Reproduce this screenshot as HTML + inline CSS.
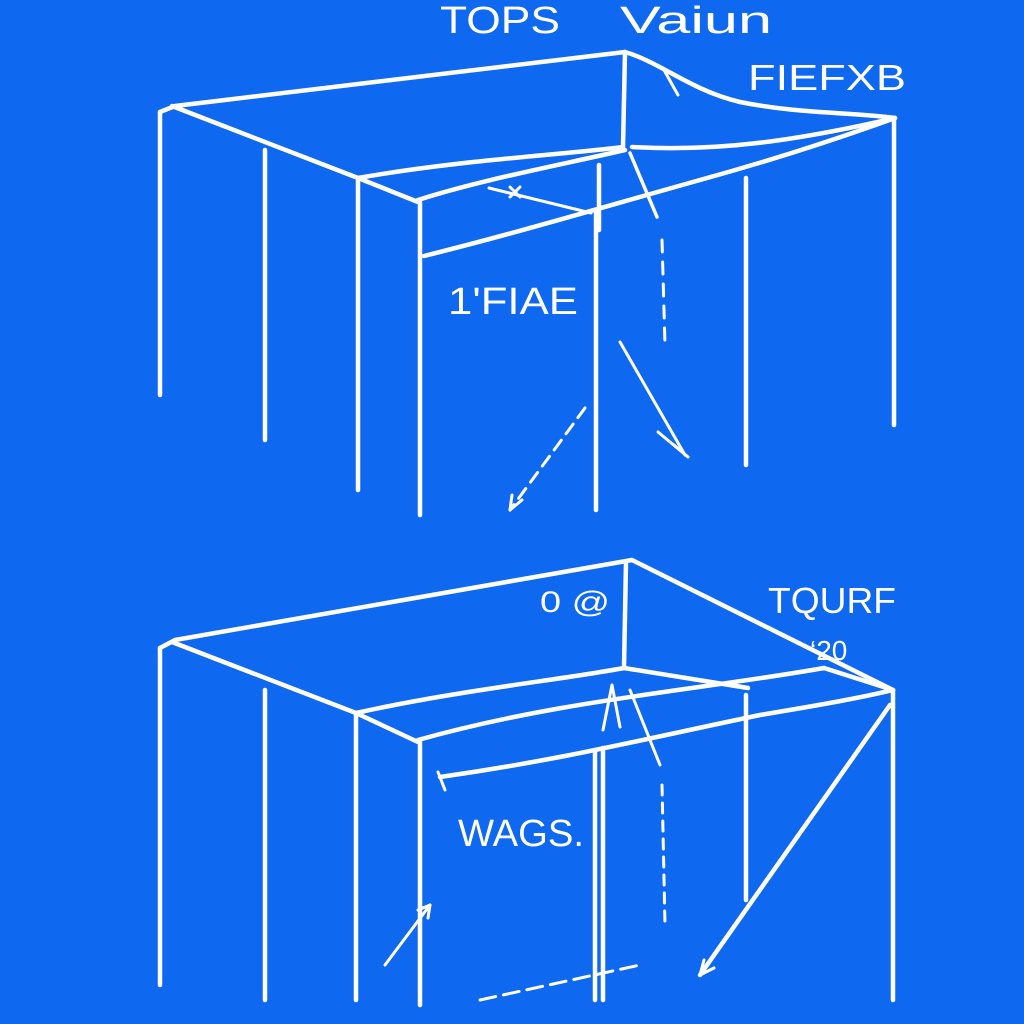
<!DOCTYPE html>
<html><head><meta charset="utf-8"><style>
html,body{margin:0;padding:0;background:#0e68f0;}
svg{display:block}
text{font-family:"Liberation Sans",sans-serif;fill:#fff}
</style></head><body>
<svg width="1024" height="1024" viewBox="0 0 1024 1024" xmlns="http://www.w3.org/2000/svg">
<rect width="1024" height="1024" fill="#0e68f0"/>
<g stroke="#fff" stroke-width="4.5" fill="none" stroke-linecap="round" stroke-linejoin="round">
<!-- TOP BOX -->
<path d="M160 112 L175 106 L625 52"/>
<path d="M625 52 L623 147"/>
<path d="M625 52 C660 62 690 90 740 102 C800 114 850 112 895 118"/>
<path d="M664 70 L678 95" stroke-width="3"/>
<path d="M172 106 L358 178 L418 202"/>
<path d="M358 178 C460 160 560 155 623 147"/>
<path d="M418 200 C480 180 560 165 625 150"/>
<path d="M632 147 C720 152 800 140 895 118"/>
<path d="M424 256 C520 232 600 208 700 180 C780 158 840 138 895 118"/>
<path d="M160 112 L160 395"/>
<path d="M265 150 L265 440"/>
<path d="M358 180 L358 490"/>
<path d="M420 202 L420 515"/>
<path d="M596 212 L596 510"/>
<path d="M599 165 L599 230"/>
<path d="M746 178 L746 465"/>
<path d="M894 120 L894 425"/>
<path d="M630 153 L657 217" stroke-width="3.5"/>
<path d="M489 188 L591 213" stroke-width="3"/>
<path d="M510 187 l10 10 M520 187 l-10 10" stroke-width="3"/>
<path d="M662 240 L665 345" stroke-dasharray="12 10" stroke-width="3"/>
<path d="M620 342 L685 455" stroke-width="3"/>
<path d="M674 445 L688 457 L658 432" stroke-width="3"/>
<path d="M585 408 L510 510" stroke-dasharray="12 8" stroke-width="3"/>
<path d="M510 510 L512 495 M510 510 L522 500" stroke-width="3"/>
<!-- BOTTOM BOX -->
<path d="M160 648 L175 640 L632 560"/>
<path d="M626 562 L624 668"/>
<path d="M632 560 L893 690"/>
<path d="M172 642 L356 713 L418 742"/>
<path d="M356 713 C460 690 560 680 624 668 L748 688"/>
<path d="M418 740 C560 700 700 690 824 668"/>
<path d="M440 777 C560 760 640 740 760 715 C820 705 860 698 893 690"/>
<path d="M824 668 L893 690"/>
<path d="M160 648 L160 985"/>
<path d="M265 690 L265 1000"/>
<path d="M356 715 L356 1000"/>
<path d="M420 742 L420 1005"/>
<path d="M595 750 L595 1000"/>
<path d="M603 748 L603 1000"/>
<path d="M746 695 L746 900"/>
<path d="M893 690 L893 1000"/>
<path d="M700 975 L890 705"/>
<path d="M700 975 L704 960 M700 975 L714 968" stroke-width="3"/>
<path d="M603 730 L612 685 L620 727" stroke-width="3"/>
<path d="M630 690 L660 765" stroke-width="3"/>
<path d="M480 1000 L640 965" stroke-dasharray="16 8" stroke-width="3"/>
<path d="M662 785 L665 925" stroke-dasharray="10 8" stroke-width="3"/>
<path d="M385 965 L430 905" stroke-width="3"/>
<path d="M430 905 L418 910 M430 905 L428 918" stroke-width="3"/>
<path d="M438 772 L445 790" stroke-width="3"/>
</g>
<text x="440" y="33" font-size="38" textLength="120" lengthAdjust="spacingAndGlyphs">TOPS</text>
<text x="620" y="33" font-size="38" textLength="152" lengthAdjust="spacingAndGlyphs">Vaiun</text>
<text x="748" y="90" font-size="36" textLength="158" lengthAdjust="spacingAndGlyphs">FIEFXB</text>
<text x="448" y="314" font-size="38" textLength="130" lengthAdjust="spacingAndGlyphs">1'FIAE</text>
<text x="768" y="613" font-size="36" textLength="128" lengthAdjust="spacingAndGlyphs">TQURF</text>
<text x="810" y="660" font-size="28">&#8216;20</text>
<text x="540" y="612" font-size="30" textLength="70" lengthAdjust="spacingAndGlyphs">0 @</text>
<text x="458" y="846" font-size="38" textLength="126" lengthAdjust="spacingAndGlyphs">WAGS.</text>
</svg>
</body></html>
